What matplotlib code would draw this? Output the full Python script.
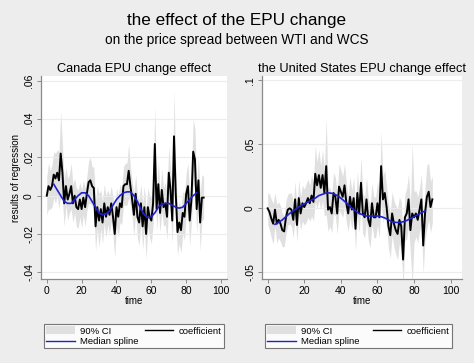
import numpy as np
import matplotlib
matplotlib.use("Agg")
import matplotlib.pyplot as plt
from matplotlib.patches import Patch
from matplotlib.lines import Line2D

plt.rcParams["font.family"] = ["Liberation Sans", "DejaVu Sans"]

BG = "#ededed"; AX = "#8a8a8a"; CI = "#e0e0e0"; BLUE = "#1f1fd0"; GRID = "#ececec"

time = np.arange(91)

# Canada: coefficients and 90% CI half-widths
ca_coef = [0.000, 0.005, 0.003, 0.005, 0.011, 0.009, 0.012, 0.008, 0.022, 0.012,
           -0.004, 0.005, -0.002, 0.001, 0.005, -0.004, 0.000, -0.006, -0.007, -0.002,
           -0.007, -0.001, -0.006, 0.001, 0.007, 0.008, 0.005, 0.004, -0.016, -0.006,
           -0.013, -0.007, -0.014, -0.004, -0.011, -0.006, -0.010, -0.004, -0.011, -0.020,
           -0.006, -0.011, -0.004, -0.006, 0.005, 0.006, 0.006, 0.013, 0.005, -0.002,
           -0.010, 0.001, -0.011, -0.014, -0.004, -0.016, -0.006, -0.020, -0.006, -0.011,
           -0.013, -0.004, 0.027, -0.007, 0.006, -0.009, 0.003, -0.006, -0.004, -0.011,
           0.012, 0.003, -0.013, 0.031, 0.001, -0.019, -0.014, -0.018, -0.009, -0.011,
           0.001, 0.005, -0.013, -0.002, 0.023, 0.019, -0.007, 0.008, -0.014, -0.001,
           -0.001]
ca_hw = [0.010, 0.012, 0.010, 0.011, 0.012, 0.013, 0.012, 0.015, 0.022, 0.015,
         0.012, 0.010, 0.011, 0.010, 0.012, 0.010, 0.009, 0.010, 0.010, 0.009,
         0.010, 0.009, 0.010, 0.009, 0.011, 0.012, 0.010, 0.011, 0.013, 0.011,
         0.014, 0.010, 0.011, 0.010, 0.011, 0.009, 0.010, 0.009, 0.010, 0.012,
         0.010, 0.011, 0.010, 0.009, 0.010, 0.011, 0.011, 0.014, 0.010, 0.009,
         0.011, 0.010, 0.011, 0.012, 0.010, 0.012, 0.011, 0.013, 0.010, 0.011,
         0.012, 0.011, 0.020, 0.011, 0.012, 0.010, 0.011, 0.010, 0.011, 0.012,
         0.014, 0.011, 0.012, 0.024, 0.013, 0.012, 0.011, 0.012, 0.011, 0.012,
         0.011, 0.012, 0.013, 0.012, 0.017, 0.016, 0.013, 0.012, 0.015, 0.012,
         0.011]
spline_t = np.arange(4, 87, 2)
ca_spline = [0.006, 0.003, 0.000, -0.003, -0.004, -0.004, -0.002, 0.000, 0.0015, 0.0015,
             0.000, -0.003, -0.006, -0.009, -0.010, -0.0095, -0.008, -0.005, -0.002, 0.000,
             0.0015, 0.002, 0.002, 0.000, -0.003, -0.007, -0.010, -0.0115, -0.011, -0.009,
             -0.006, -0.0045, -0.004, -0.004, -0.005, -0.006, -0.0065, -0.006, -0.004, -0.002,
             0.000, 0.0015]

# United States
us_coef = [0.000, -0.003, -0.008, -0.012, -0.001, -0.012, -0.009, -0.012, -0.017, -0.018,
           -0.007, -0.001, 0.000, -0.001, -0.009, 0.007, -0.013, 0.008, -0.004, 0.004,
           0.001, 0.004, 0.008, 0.004, 0.010, 0.005, 0.027, 0.018, 0.026, 0.016,
           0.026, 0.012, 0.033, -0.001, 0.001, -0.004, 0.012, 0.009, -0.004, 0.017,
           0.013, 0.009, 0.018, 0.004, -0.004, 0.009, -0.001, 0.008, -0.016, 0.012,
           -0.004, 0.020, -0.004, -0.007, 0.007, -0.009, -0.014, 0.004, -0.007, -0.007,
           0.004, -0.007, 0.033, 0.007, 0.012, 0.001, -0.014, -0.021, -0.004, -0.012,
           -0.017, -0.020, -0.009, -0.014, -0.040, -0.007, -0.004, 0.007, -0.017, -0.004,
           -0.007, -0.004, -0.009, -0.001, 0.007, -0.029, -0.004, 0.009, 0.013, 0.001,
           0.007]
us_hw = [0.012, 0.014, 0.015, 0.016, 0.013, 0.015, 0.014, 0.014, 0.013, 0.012,
         0.013, 0.012, 0.012, 0.013, 0.014, 0.014, 0.013, 0.014, 0.013, 0.014,
         0.014, 0.015, 0.015, 0.014, 0.016, 0.015, 0.022, 0.018, 0.020, 0.017,
         0.020, 0.018, 0.038, 0.017, 0.015, 0.015, 0.016, 0.015, 0.016, 0.018,
         0.017, 0.016, 0.017, 0.015, 0.014, 0.016, 0.015, 0.016, 0.017, 0.017,
         0.015, 0.020, 0.016, 0.016, 0.017, 0.016, 0.017, 0.016, 0.016, 0.016,
         0.017, 0.016, 0.027, 0.018, 0.018, 0.016, 0.017, 0.018, 0.017, 0.018,
         0.019, 0.020, 0.018, 0.019, 0.020, 0.018, 0.020, 0.020, 0.018, 0.055,
         0.020, 0.018, 0.018, 0.017, 0.020, 0.022, 0.020, 0.025, 0.022, 0.020,
         0.018]
us_spline = [-0.0125, -0.011, -0.009, -0.0065, -0.004, -0.002, 0.000, 0.002, 0.0035, 0.005,
             0.0065, 0.008, 0.010, 0.011, 0.012, 0.012, 0.0115, 0.010, 0.008, 0.0055,
             0.003, 0.000, -0.002, -0.004, -0.005, -0.006, -0.006, -0.006, -0.006, -0.0065,
             -0.0075, -0.009, -0.0105, -0.011, -0.011, -0.0105, -0.0095, -0.008, -0.0065, -0.005,
             -0.0035, -0.002]

x_ticks = [0, 20, 40, 60, 80, 100]
ca_yticks = [-0.04, -0.02, 0, 0.02, 0.04, 0.06]
ca_ylabels = ["-.04", "-.02", "0", ".02", ".04", ".06"]
us_yticks = [-0.05, 0, 0.05, 0.1]
us_ylabels = ["-.05", "0", ".05", ".1"]

W, H = 474, 363
fig = plt.figure(figsize=(W / 100, H / 100), dpi=100, facecolor=BG)


def px(x0, y0, x1, y1):
    return [x0 / W, 1 - y1 / H, (x1 - x0) / W, (y1 - y0) / H]


def panel(rect, coef, hw, spline, ylim, xlim, yticks, ylabels, title, ylabel=None):
    ax = fig.add_axes(rect)
    ax.set_facecolor("white")
    c = np.array(coef); h = np.array(hw)
    ax.fill_between(time, c - h, c + h, color=CI, lw=0, zorder=1)
    ax.plot(time, c, color="black", lw=1.4, zorder=3)
    ax.plot(spline_t, spline, color=BLUE, lw=1.2, zorder=4)
    ax.set_xlim(*xlim); ax.set_ylim(*ylim)
    ax.set_xticks(x_ticks)
    ax.set_yticks(yticks)
    ax.set_yticklabels(ylabels, rotation=90, va="center")
    ax.tick_params(labelsize=7.5, color=AX, length=3, width=0.7, pad=2)
    ax.grid(axis="y", color=GRID, lw=0.8, zorder=0)
    for s in ("top", "right"):
        ax.spines[s].set_visible(False)
    for s in ("left", "bottom"):
        ax.spines[s].set_color(AX); ax.spines[s].set_linewidth(0.9)
    ax.set_xlabel("time", fontsize=7, labelpad=0)
    if ylabel:
        ax.set_ylabel(ylabel, fontsize=7, labelpad=2)
    ax.set_title(title, fontsize=9.2, pad=3)
    return ax


ax1 = panel(px(41, 76, 227, 279), ca_coef, ca_hw, ca_spline, (-0.0435, 0.0625), (-3.3, 103.4),
            ca_yticks, ca_ylabels, "Canada EPU change effect", "results of regression")
ax2 = panel(px(262, 76, 462, 279), us_coef, us_hw, us_spline, (-0.0552, 0.1034), (-3.1, 106.2),
            us_yticks, us_ylabels, "the United States EPU change effect")

# column-major fill: col 1 = CI, spline; col 2 = coefficient
handles = [Patch(facecolor=CI, edgecolor="none", label="90% CI"),
           Line2D([], [], color=BLUE, lw=1.0, label="Median spline"),
           Line2D([], [], color="black", lw=1.0, label="coefficient")]
for ax, x0, x1 in ((ax1, 44, 224), (ax2, 265, 452)):
    leg = fig.legend(handles=handles, ncol=2, fontsize=6.8, frameon=True, fancybox=False,
                     loc="upper left", bbox_to_anchor=px(x0, 324, x1, 341), mode="expand",
                     handlelength=3.0, handleheight=0.9, handletextpad=0.6, columnspacing=1.0,
                     borderpad=0.25, labelspacing=0.15, borderaxespad=0)
    leg.get_frame().set_edgecolor("#555555"); leg.get_frame().set_linewidth(0.8)

fig.text(237 / W, 1 - 20 / H, "the effect of the EPU change", ha="center", va="center", fontsize=12.3)
fig.text(237 / W, 1 - 40 / H, "on the price spread between WTI and WCS", ha="center", va="center",
         fontsize=9.8)

fig.savefig("out.png", dpi=100, facecolor=BG)
